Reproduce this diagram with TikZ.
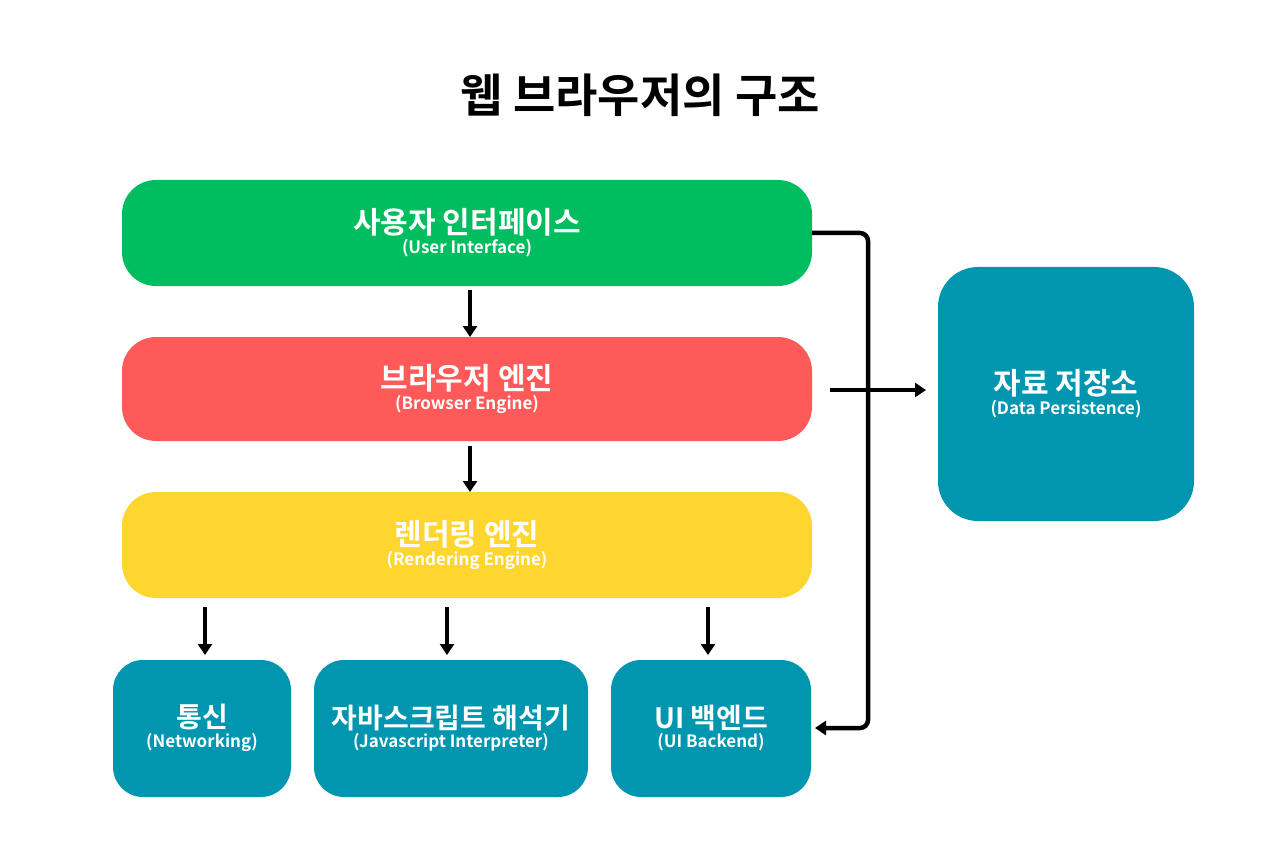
\documentclass[tikz,border=0pt]{standalone}
\usepackage{fontspec}
\setmainfont{Noto Sans CJK KR}[BoldFont={* Bold}]
\usetikzlibrary{arrows.meta}
\definecolor{cgreen}{HTML}{00BE5F}
\definecolor{cred}{HTML}{FF5A5A}
\definecolor{cyel}{HTML}{FFD530}
\definecolor{cteal}{HTML}{0096B0}
\begin{document}
\begin{tikzpicture}[x=1pt,y=-1pt,
  box/.style={rounded corners=34pt,inner sep=0pt,align=center,text=white,font=\bfseries},
  kr/.style={font=\fontsize{30}{34}\selectfont\bfseries},
  en/.style={font=\fontsize{17}{20}\selectfont\bfseries},
  arr/.style={line width=4.5pt,-{Triangle[length=11pt,width=14pt]}}]
\useasboundingbox (0,0) rectangle (1280,853);
\node[font=\fontsize{46}{50}\selectfont\bfseries] (title) at (640,95) {웹 브라우저의 구조};
\fill[cgreen,rounded corners=34pt] (122,180) rectangle (812,286);
\node[box] (ui) at (467,233) {\fontsize{30}{34}\selectfont 사용자 인터페이스\\[2pt]\fontsize{17}{20}\selectfont (User Interface)};
\fill[cred,rounded corners=34pt] (122,337) rectangle (812,441);
\node[box] (be) at (467,389) {\fontsize{30}{34}\selectfont 브라우저 엔진\\[2pt]\fontsize{17}{20}\selectfont (Browser Engine)};
\fill[cyel,rounded corners=34pt] (122,492) rectangle (812,598);
\node[box] (re) at (467,545) {\fontsize{30}{34}\selectfont 렌더링 엔진\\[2pt]\fontsize{17}{20}\selectfont (Rendering Engine)};
\fill[cteal,rounded corners=40pt] (938,267) rectangle (1194,521);
\node[box] (dp) at (1066,394) {\fontsize{30}{34}\selectfont 자료 저장소\\[2pt]\fontsize{17}{20}\selectfont (Data Persistence)};
\fill[cteal,rounded corners=30pt] (113,660) rectangle (291,797);
\node[box] (nw) at (202,728) {\fontsize{28}{32}\selectfont 통신\\[2pt]\fontsize{17}{20}\selectfont (Networking)};
\fill[cteal,rounded corners=30pt] (314,660) rectangle (588,797);
\node[box] (js) at (451,728) {\fontsize{28}{32}\selectfont 자바스크립트 해석기\\[2pt]\fontsize{17}{20}\selectfont (Javascript Interpreter)};
\fill[cteal,rounded corners=30pt] (611,660) rectangle (811,797);
\node[box] (ub) at (711,728) {\fontsize{28}{32}\selectfont UI 백엔드\\[2pt]\fontsize{17}{20}\selectfont (UI Backend)};
\coordinate (a1) at (470,290); \coordinate (a2) at (470,337);
\coordinate (b1) at (470,446); \coordinate (b2) at (470,492);
\draw[arr] (a1) -- (a2);
\draw[arr] (b1) -- (b2);
\foreach \x/\n in {205/a,447/b,708/c}{
  \coordinate (r\n1) at (\x,607); \coordinate (r\n2) at (\x,655);
  \draw[arr] (r\n1) -- (r\n2);}
\coordinate (s1) at (812,233); \coordinate (s2) at (868,233);
\coordinate (s3) at (868,728); \coordinate (s4) at (815,728);
\draw[arr,rounded corners=8pt] (s1) -- (s2) -- (s3) -- (s4);
\coordinate (h1) at (830,390); \coordinate (h2) at (926,390);
\draw[arr] (h1) -- (h2);
\end{tikzpicture}
\end{document}
